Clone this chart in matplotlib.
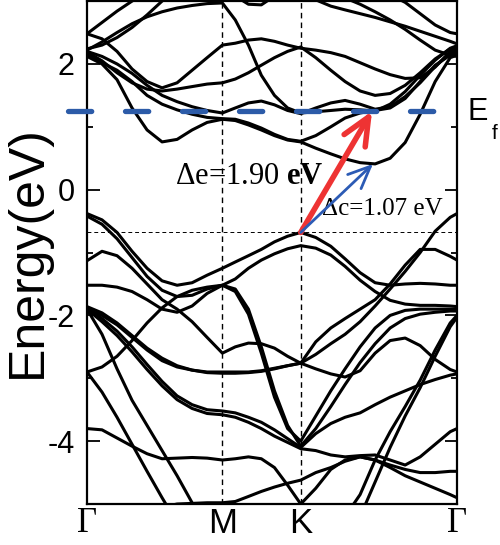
import numpy as np
import matplotlib
matplotlib.use("Agg")
import matplotlib.pyplot as plt

plt.rcParams["mathtext.fontset"] = "custom"
plt.rcParams["mathtext.rm"] = "Liberation Serif"
plt.rcParams["mathtext.bf"] = "Liberation Serif:bold"

nan = np.nan
# k-path positions (Gamma=0, M=0.577, K=0.911, Gamma=1.577)
kpts = [0.000, 0.064, 0.128, 0.192, 0.256, 0.320, 0.384, 0.448, 0.512, 0.577,
        0.632, 0.688, 0.743, 0.799, 0.855, 0.911,
        0.975, 1.039, 1.100, 1.164, 1.228, 1.292, 1.356, 1.420, 1.484, 1.548, 1.577]
kticks = [0.0, 0.577, 0.911, 1.577]
klabels = ["Γ", "M", "K", "Γ"]

# conduction bands (eV)
c1 = [2.12, 2.00, 1.75, 1.30, 0.95, 0.76, 0.80, 0.95, 1.07, 1.12, 1.10, 1.03, 0.95, 0.86, 0.79, 0.76, 0.66, 0.57, 0.49, 0.43, 0.41, 0.50, 0.75, 1.20, 1.72, 2.10, 2.14]
c2 = [2.16, 2.02, 1.90, 1.72, 1.50, 1.36, 1.27, 1.20, 1.15, 1.13, 1.12, 1.06, 0.98, 0.88, 0.80, 0.77, 0.86, 1.00, 1.14, 1.22, 1.26, 1.30, 1.45, 1.72, 1.98, 2.14, 2.17]
c3 = [2.20, 2.12, 2.00, 1.85, 1.66, 1.50, 1.40, 1.32, 1.26, 1.22, 1.30, 1.38, 1.41, 1.35, 1.26, 1.21, 1.30, 1.38, 1.42, 1.36, 1.28, 1.32, 1.48, 1.70, 1.96, 2.17, 2.21]
c4 = [2.48, 2.40, 2.20, 1.92, 1.72, 1.62, 1.70, 1.90, 2.10, 2.30, 2.33, 2.38, 2.40, 2.36, 2.30, 2.25, 2.22, 2.18, 2.12, 2.02, 1.92, 1.83, 1.77, 1.78, 1.95, 2.20, 2.24]
c5 = [2.19, 2.05, 1.86, 1.70, 1.60, 1.57, 1.60, 1.64, 1.68, 1.70, 1.76, 1.86, 1.98, 2.10, 2.20, 2.27, 2.10, 1.90, 1.72, 1.57, 1.50, 1.53, 1.66, 1.86, 2.08, 2.24, 2.27]
c6 = [2.22, 2.35, 2.50, 2.64, 2.75, 2.83, 2.89, 2.93, 2.96, 2.97, 2.70, 2.30, 1.82, 1.50, 1.30, 1.22, 1.24, 1.26, 1.28, 1.27, 1.25, 1.36, 1.56, 1.82, 2.06, 2.25, 2.29]
c7 = [2.48, 2.66, 2.84, 3.00, 3.15, 3.30, 3.40, 3.45, 3.50, 3.50, 3.45, 3.40, 3.35, 3.30, 3.20, 3.12, 3.02, 2.92, 2.86, 2.80, 2.74, 2.67, 2.60, 2.52, 2.44, 2.36, 2.32]
c8 = [2.24, 2.30, 2.42, 2.58, 2.78, 3.00, 3.20, 3.30, 3.35, 3.35, 3.08, 2.95, 2.94, 3.08, 3.20, 3.25, 3.20, 3.15, 3.05, 2.95, 2.83, 2.70, 2.55, 2.38, 2.22, 2.14, 2.12]
c9 = [nan, nan, nan, nan, nan, nan, nan, nan, nan, nan, nan, nan, nan, nan, nan, nan, nan, 3.50, 3.40, 3.30, 3.20, 3.10, 2.98, 2.80, 2.62, 2.50, 2.48]

# valence bands (eV)
v1 = [-0.38, -0.48, -0.68, -0.98, -1.25, -1.45, -1.52, -1.48, -1.36, -1.25, -1.15, -1.05, -0.95, -0.83, -0.74, -0.68, -0.76, -0.90, -1.10, -1.32, -1.48, -1.52, -1.50, -1.49, -1.50, -1.52, -1.52]
v2 = [-0.42, -0.55, -0.78, -1.08, -1.38, -1.60, -1.70, -1.68, -1.58, -1.52, -1.42, -1.25, -1.12, -1.02, -0.94, -0.89, -0.93, -1.04, -1.22, -1.44, -1.62, -1.76, -1.82, -1.84, -1.84, -1.85, -1.86]
v3 = [-1.13, -0.98, -1.05, -1.25, -1.50, -1.75, -1.90, -2.10, -2.35, -2.60, -2.50, -2.44, -2.45, -2.52, -2.65, -2.76, -2.42, -2.20, -2.05, -1.90, -1.75, -1.50, -1.20, -0.95, -0.95, -1.06, -1.12]
v4 = [-1.52, -1.52, -1.55, -1.62, -1.75, -1.90, -1.95, -1.85, -1.65, -1.52, -1.62, -1.98, -2.60, -3.30, -3.80, -4.00, -3.60, -3.20, -2.85, -2.50, -2.20, -2.00, -1.92, -1.90, -1.90, -1.90, -1.90]
v5 = [-1.86, -1.96, -2.12, -2.32, -2.52, -2.68, -2.80, -2.87, -2.91, -2.92, -2.92, -2.91, -2.89, -2.85, -2.80, -2.76, -2.62, -2.45, -2.30, -2.10, -1.85, -1.58, -1.30, -1.00, -0.66, -0.44, -0.38]
v6 = [-2.90, -3.22, -3.62, -4.05, -4.48, -4.90, -5.30, -5.60, -5.80, -5.90, -5.95, -6.00, -6.00, -5.95, -5.90, -5.85, -5.75, -5.55, -5.20, -4.85, -4.30, -3.85, -3.45, -3.03, -2.55, -2.12, -2.00]
v7 = [-1.90, -2.30, -2.85, -3.35, -3.75, -4.15, -4.55, -4.98, -5.30, -5.50, -5.70, -5.85, -5.95, -6.00, -6.00, -6.00, -5.95, -5.85, -5.65, -5.20, -4.65, -4.10, -3.60, -3.15, -2.65, -2.18, -2.03]
v9 = [-2.90, -2.82, -2.65, -2.40, -2.12, -1.88, -1.70, -1.60, -1.55, -1.52, -1.58, -1.90, -2.50, -3.20, -3.75, -4.08, -3.80, -3.45, -3.10, -2.75, -2.45, -2.20, -2.05, -1.98, -1.95, -1.93, -1.93]
v11 = [-1.88, -2.05, -2.25, -2.50, -2.78, -3.05, -3.28, -3.42, -3.50, -3.52, -3.55, -3.62, -3.70, -3.82, -3.96, -4.10, -3.88, -3.72, -3.62, -3.55, -3.42, -3.30, -3.20, -3.10, -3.02, -2.95, -2.93]
v11b = [-1.90, -2.10, -2.32, -2.58, -2.86, -3.12, -3.34, -3.48, -3.56, -3.58, -3.62, -3.70, -3.80, -3.92, -4.02, -4.12, -4.15, -4.22, -4.25, -4.23, -4.22, -4.30, -4.38, -4.25, -4.05, -3.85, -3.80]
v12 = [-1.90, -2.00, -2.15, -2.35, -2.55, -2.72, -2.82, -2.87, -2.90, -2.90, -2.90, -2.90, -2.88, -2.84, -2.80, -2.76, -2.85, -2.93, -2.98, -2.88, -2.60, -2.40, -2.36, -2.48, -2.70, -2.86, -2.90]
v13 = [-3.80, -3.82, -3.95, -4.08, -4.20, -4.28, -4.27, -4.26, -4.27, -4.30, -4.28, -4.25, -4.28, -4.42, -4.70, -5.00, -4.75, -4.45, -4.30, -4.25, -4.30, -4.38, -4.45, -4.50, -4.50, -4.48, -4.48]
v14 = [-5.60, -5.50, -5.40, -5.30, -5.15, -5.05, -5.00, -4.99, -4.98, -4.98, -4.96, -4.88, -4.80, -4.73, -4.67, -4.62, -4.50, -4.42, -4.32, -4.25, -4.30, -4.42, -4.55, -4.65, -4.75, -4.85, -4.90]

bands = [c1, c2, c3, c4, c5, c6, c7, c8, c9,
         v1, v2, v3, v4, v5, v6, v7, v9, v11, v11b, v12, v13, v14]

E_fermi = 1.25
E_vbm = -0.68
k_K = 0.911
arrow_red_tip = (1.215, 1.25)
arrow_blue_tip = (1.219, 0.41)
gap_e_label = r"Δe=1.90 $\mathbf{eV}$"
gap_c_label = "Δc=1.07 eV"

fig = plt.figure(figsize=(5.0, 5.45), dpi=100)
ax = fig.add_axes([0.174, 0.0752, 0.740, 0.9228])

for b in bands:
    ax.plot(kpts, b, color="black", lw=2.2, solid_joinstyle="round", solid_capstyle="round")

ax.set_xlim(kticks[0], kticks[-1])
ax.set_ylim(-5, 3)

# high-symmetry vertical dashed lines
for kv in kticks[1:3]:
    ax.axvline(kv, color="black", lw=1.0, ls=(0, (4, 3)))
# VBM thin dashed
ax.axhline(E_vbm, color="black", lw=0.7, ls=(0, (4, 3)))

# Fermi level
ax.plot([-0.081, 1.603], [E_fermi, E_fermi], color="#2c5ba8", lw=3.8,
        dashes=(4.4, 6.4), dash_capstyle="round", clip_on=False, zorder=5)
ax.text(1.622, 1.11, "E", fontsize=22, family="Liberation Sans", ha="left",
        va="baseline", clip_on=False)
ax.text(1.725, 0.80, "f", fontsize=15, family="Liberation Sans", ha="left",
        va="baseline", clip_on=False)

# arrows
ax.annotate("", xy=arrow_red_tip, xytext=(k_K, E_vbm),
            arrowprops=dict(arrowstyle="->,head_length=0.9,head_width=0.4",
                            lw=4.0, color="#ee3333", shrinkA=0, shrinkB=0,
                            mutation_scale=22), zorder=6)
ax.annotate("", xy=arrow_blue_tip, xytext=(k_K, E_vbm),
            arrowprops=dict(arrowstyle="->,head_length=0.8,head_width=0.35",
                            lw=2.0, color="#2c5bb5", shrinkA=0, shrinkB=0,
                            mutation_scale=20), zorder=6)

ax.text(0.375, 0.095, gap_e_label, fontsize=22, family="Liberation Serif",
        ha="left", va="baseline")
ax.text(1.002, -0.41, gap_c_label, fontsize=18, family="Liberation Serif",
        ha="left", va="baseline")

# ticks
ax.set_yticks([-4, -2, 0, 2], labels=["-4", "-2", "0", "2"])
ax.set_yticks([-5, -3, -1, 1, 3], minor=True)
ax.tick_params(axis="y", which="both", direction="in", left=True, right=True,
               labelsize=22, pad=9, width=1.3)
ax.tick_params(axis="y", which="major", length=9)
ax.tick_params(axis="y", which="minor", length=4.5)
for lab in ax.get_yticklabels():
    lab.set_family("Liberation Sans")

ax.set_xticks(kticks, labels=klabels)
ax.tick_params(axis="x", length=0, pad=2.5, labelsize=25)
for i, lab in enumerate(ax.get_xticklabels()):
    lab.set_family("Liberation Serif" if klabels[i] == "Γ" else "Liberation Sans")

for sp in ax.spines.values():
    sp.set_linewidth(1.6)

fig.text(0.056, 1 - 252 / 545, "Energy(eV)", rotation=90, fontsize=36,
         family="Liberation Sans", ha="center", va="center")

fig.savefig("out.png", dpi=100)
